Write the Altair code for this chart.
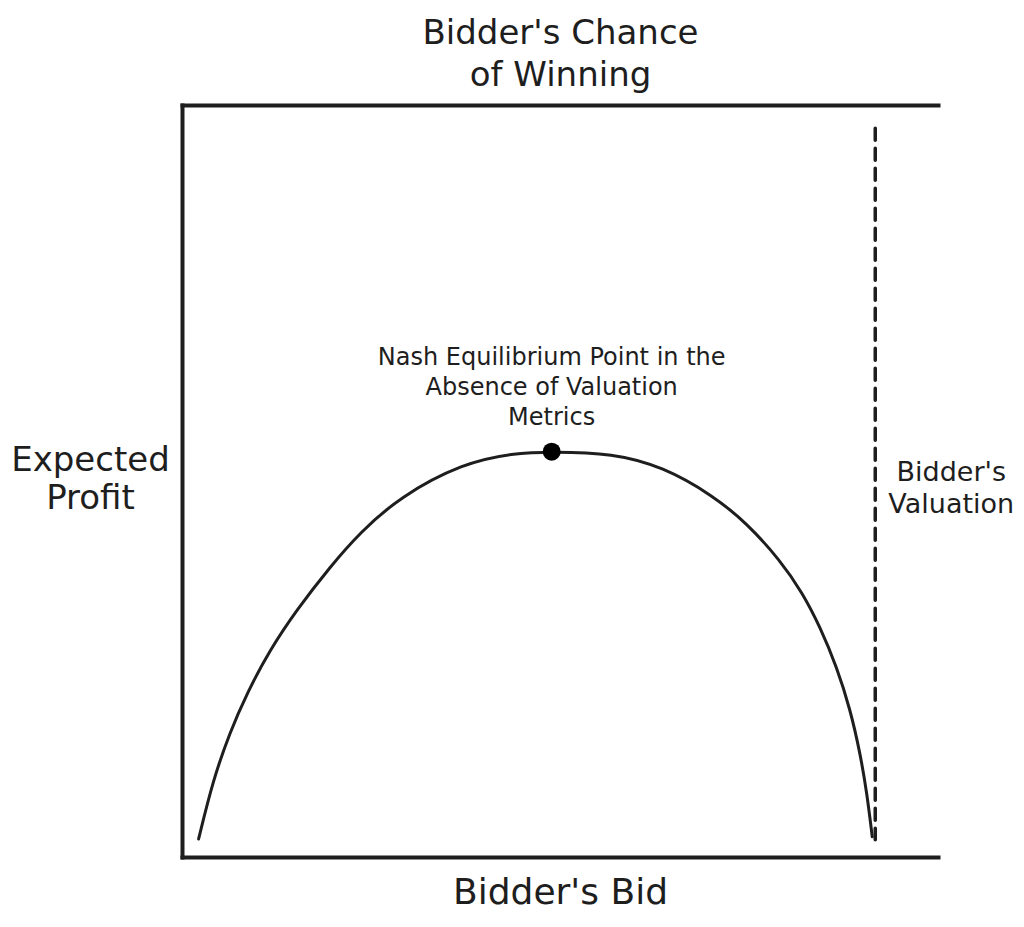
import altair as alt
import pandas as pd

# ---- data ----
bid = [2.2, 4.1, 6.3, 8.6, 11.6, 15.2, 19.6, 23.5, 28.8, 37.2, 43.8, 48.9,
       57.0, 63.6, 70.2, 74.7, 79.1, 82.1, 84.4, 86.6, 88.4, 89.7, 90.6, 91.3]
profit = [2.4, 10.2, 16.5, 21.8, 27.5, 32.9, 38.6, 43.1, 47.9, 52.4, 53.7, 53.9,
          53.7, 51.9, 48.1, 44.4, 39.5, 35.1, 30.6, 25.3, 19.6, 13.8, 8.5, 2.7]

peak_bid = [48.9]
peak_profit = [53.9]
peak_label = ["Nash Equilibrium Point in the\nAbsence of Valuation\nMetrics"]

valuation_bid = [91.7]
valuation_top = [96.9]
valuation_bottom = [2.3]
valuation_label = ["Bidder's\nValuation"]

x_title_bottom = "Bidder's Bid"
x_title_top = ["Bidder's Chance", "of Winning"]
y_title = ["Expected", "Profit"]

# ---- tables ----
curve_df = pd.DataFrame({"bid": bid, "profit": profit})
peak_df = pd.DataFrame({"bid": peak_bid, "profit": peak_profit, "label": peak_label})
val_df = pd.DataFrame({"bid": valuation_bid, "top": valuation_top,
                       "bottom": valuation_bottom, "label": valuation_label})

INK = "#1e1e1e"
FONT = "DejaVu Sans"

xs = alt.Scale(domain=[0, 100], nice=False, zero=False)
ys = alt.Scale(domain=[0, 100], nice=False, zero=False)

common_axis = dict(labels=False, ticks=False, grid=False, domainColor=INK,
                   domainWidth=4, domainCap="square", titleFont=FONT,
                   titleFontWeight="normal", titleColor=INK)

y_axis = alt.Axis(title=y_title, titleAngle=0, titleAlign="center",
                  titleBaseline="middle", titleX=-92, titleY=355,
                  titleFontSize=34, titleLineHeight=38, **common_axis)

bottom_axis = alt.Axis(orient="bottom", title=x_title_bottom, titleFontSize=36,
                       titlePadding=18, **common_axis)

top_axis = alt.Axis(orient="top", title=x_title_top, titleFontSize=34,
                    titleLineHeight=42, titlePadding=13, **common_axis)

curve = alt.Chart(curve_df).mark_line(
    color=INK, strokeWidth=3, interpolate="basis", strokeCap="round"
).encode(
    x=alt.X("bid:Q", scale=xs, axis=bottom_axis),
    y=alt.Y("profit:Q", scale=ys, axis=y_axis),
)

rule = alt.Chart(val_df).mark_rule(
    color=INK, strokeWidth=3.5, strokeDash=[12, 8], strokeCap="round"
).encode(
    x=alt.X("bid:Q", scale=xs, axis=top_axis),
    y=alt.Y("top:Q", scale=ys, axis=y_axis),
    y2="bottom:Q",
)

point = alt.Chart(peak_df).mark_circle(color="#000000", opacity=1, size=324).encode(
    x=alt.X("bid:Q", scale=xs, axis=None),
    y=alt.Y("profit:Q", scale=ys, axis=y_axis),
)

peak_text = alt.Chart(peak_df).mark_text(
    font=FONT, fontSize=24, lineHeight=30, lineBreak="\n", align="center",
    baseline="middle", dy=-94, color=INK
).encode(
    x=alt.X("bid:Q", scale=xs, axis=None),
    y=alt.Y("profit:Q", scale=ys, axis=y_axis),
    text="label:N",
)

val_text = alt.Chart(val_df).mark_text(
    font=FONT, fontSize=27, lineHeight=32, lineBreak="\n", align="center",
    baseline="middle", dx=76, color=INK
).encode(
    x=alt.X("bid:Q", scale=xs, axis=None),
    y=alt.value(368),
    text="label:N",
)

chart = alt.layer(curve, rule, point, peak_text, val_text).resolve_axis(
    x="independent"
).properties(
    width=756, height=752,
    padding={"left": 174, "top": 97, "right": 78, "bottom": 62},
    autosize=alt.AutoSizeParams(type="none"),
    background="white",
).configure_view(stroke=None)

chart.save("out.html", embed_options={"renderer": "svg", "actions": False})
